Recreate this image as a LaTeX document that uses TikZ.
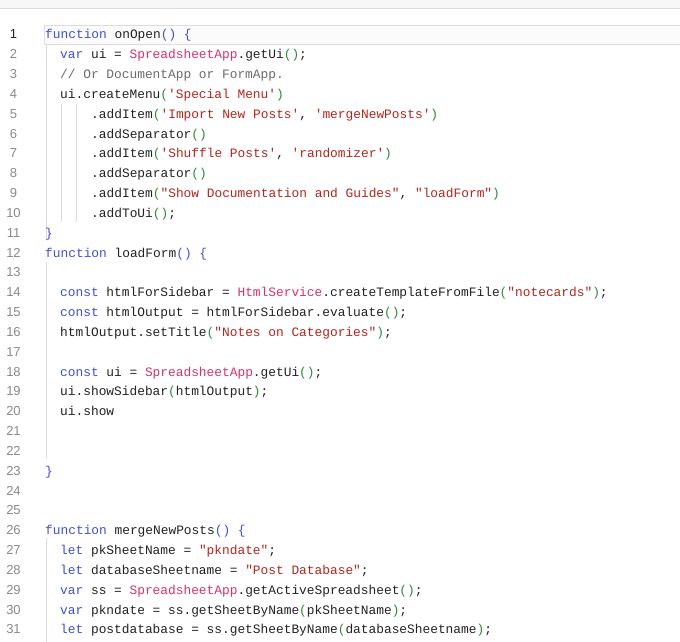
\documentclass[tikz,border=0pt]{standalone}
\usepackage{fontspec}
\newfontfamily\codefont{Liberation Mono}
\newfontfamily\numfont{Liberation Sans}
\definecolor{kw}{HTML}{3F51D0}
\definecolor{st}{HTML}{B3261E}
\definecolor{sa}{HTML}{D6336C}
\definecolor{pa}{HTML}{2E8B3A}
\definecolor{cm}{HTML}{6B6B6B}
\definecolor{tx}{HTML}{222222}
\definecolor{guide}{HTML}{DADCE0}
\definecolor{lnum}{HTML}{8A8A8A}
\newcommand{\K}[1]{\textcolor{kw}{#1}}
\newcommand{\St}[1]{\textcolor{st}{#1}}
\newcommand{\A}[1]{\textcolor{sa}{#1}}
\newcommand{\Pa}[1]{\textcolor{pa}{#1}}
\newcommand{\Cm}[1]{\textcolor{cm}{#1}}
\begin{document}
\begin{tikzpicture}[x=1pt,y=-1pt,
  codeline/.style={anchor=base west,inner sep=0pt,text=tx,font=\codefont\fontsize{12.85}{15}\selectfont},
  numline/.style={anchor=base,inner sep=0pt,text=lnum,font=\numfont\fontsize{13}{15}\selectfont},
  guideline/.style={draw=guide,line width=1pt}]
\useasboundingbox (0,0) rectangle (680,642);
\fill[white] (0,0) rectangle (680,642);
\fill[gray!6] (0,0) rectangle (680,8);
\draw[guide,line width=0.6pt] (0,8.5) -- (680,8.5);
\draw[guide,line width=0.8pt,fill=gray!3] (44,25) rectangle (681,44);
% guides
\draw[guideline] (46.5,44) -- (46.5,241);
\draw[guideline] (61.5,104) -- (61.5,222);
\draw[guideline] (76.5,104) -- (76.5,222);
\draw[guideline] (46.5,262) -- (46.5,458);
\draw[guideline] (46.5,538) -- (46.5,642);
\foreach \i in {1,...,31}{
  \node[numline] (n\i) at (13.5,{39+(\i-1)*19.83}) {\ifnum\i=1 \textcolor{tx}{\i}\else\i\fi};
}
\newcommand{\Y}[1]{{39+(#1-1)*19.83}}
\node[codeline] (l1) at (45,\Y{1}) {\K{function} onOpen\K{() \{}};
\node[codeline] (l2) at (60,\Y{2}) {\K{var} ui = \A{SpreadsheetApp}.getUi\Pa{()};};
\node[codeline] (l3) at (60,\Y{3}) {\Cm{// Or DocumentApp or FormApp.}};
\node[codeline] (l4) at (60,\Y{4}) {ui.createMenu\Pa{(}\St{'Special Menu'}\Pa{)}};
\node[codeline] (l5) at (91,\Y{5}) {.addItem\Pa{(}\St{'Import New Posts'}, \St{'mergeNewPosts'}\Pa{)}};
\node[codeline] (l6) at (91,\Y{6}) {.addSeparator\Pa{()}};
\node[codeline] (l7) at (91,\Y{7}) {.addItem\Pa{(}\St{'Shuffle Posts'}, \St{'randomizer'}\Pa{)}};
\node[codeline] (l8) at (91,\Y{8}) {.addSeparator\Pa{()}};
\node[codeline] (l9) at (91,\Y{9}) {.addItem\Pa{(}\St{"Show Documentation and Guides"}, \St{"loadForm"}\Pa{)}};
\node[codeline] (l10) at (91,\Y{10}) {.addToUi\Pa{()};};
\node[codeline] (l11) at (45,\Y{11}) {\K{\}}};
\node[codeline] (l12) at (45,\Y{12}) {\K{function} loadForm\K{() \{}};
\node[codeline] (l14) at (60,\Y{14}) {\K{const} htmlForSidebar = \A{HtmlService}.createTemplateFromFile\Pa{(}\St{"notecards"}\Pa{)};};
\node[codeline] (l15) at (60,\Y{15}) {\K{const} htmlOutput = htmlForSidebar.evaluate\Pa{()};};
\node[codeline] (l16) at (60,\Y{16}) {htmlOutput.setTitle\Pa{(}\St{"Notes on Categories"}\Pa{)};};
\node[codeline] (l18) at (60,\Y{18}) {\K{const} ui = \A{SpreadsheetApp}.getUi\Pa{()};};
\node[codeline] (l19) at (60,\Y{19}) {ui.showSidebar\Pa{(}htmlOutput\Pa{)};};
\node[codeline] (l20) at (60,\Y{20}) {ui.show};
\node[codeline] (l23) at (45,\Y{23}) {\K{\}}};
\node[codeline] (l26) at (45,\Y{26}) {\K{function} mergeNewPosts\K{() \{}};
\node[codeline] (l27) at (60,\Y{27}) {\K{let} pkSheetName = \St{"pkndate"};};
\node[codeline] (l28) at (60,\Y{28}) {\K{let} databaseSheetname = \St{"Post Database"};};
\node[codeline] (l29) at (60,\Y{29}) {\K{var} ss = \A{SpreadsheetApp}.getActiveSpreadsheet\Pa{()};};
\node[codeline] (l30) at (60,\Y{30}) {\K{var} pkndate = ss.getSheetByName\Pa{(}pkSheetName\Pa{)};};
\node[codeline] (l31) at (60,\Y{31}) {\K{let} postdatabase = ss.getSheetByName\Pa{(}databaseSheetname\Pa{)};};
\end{tikzpicture}
\end{document}
